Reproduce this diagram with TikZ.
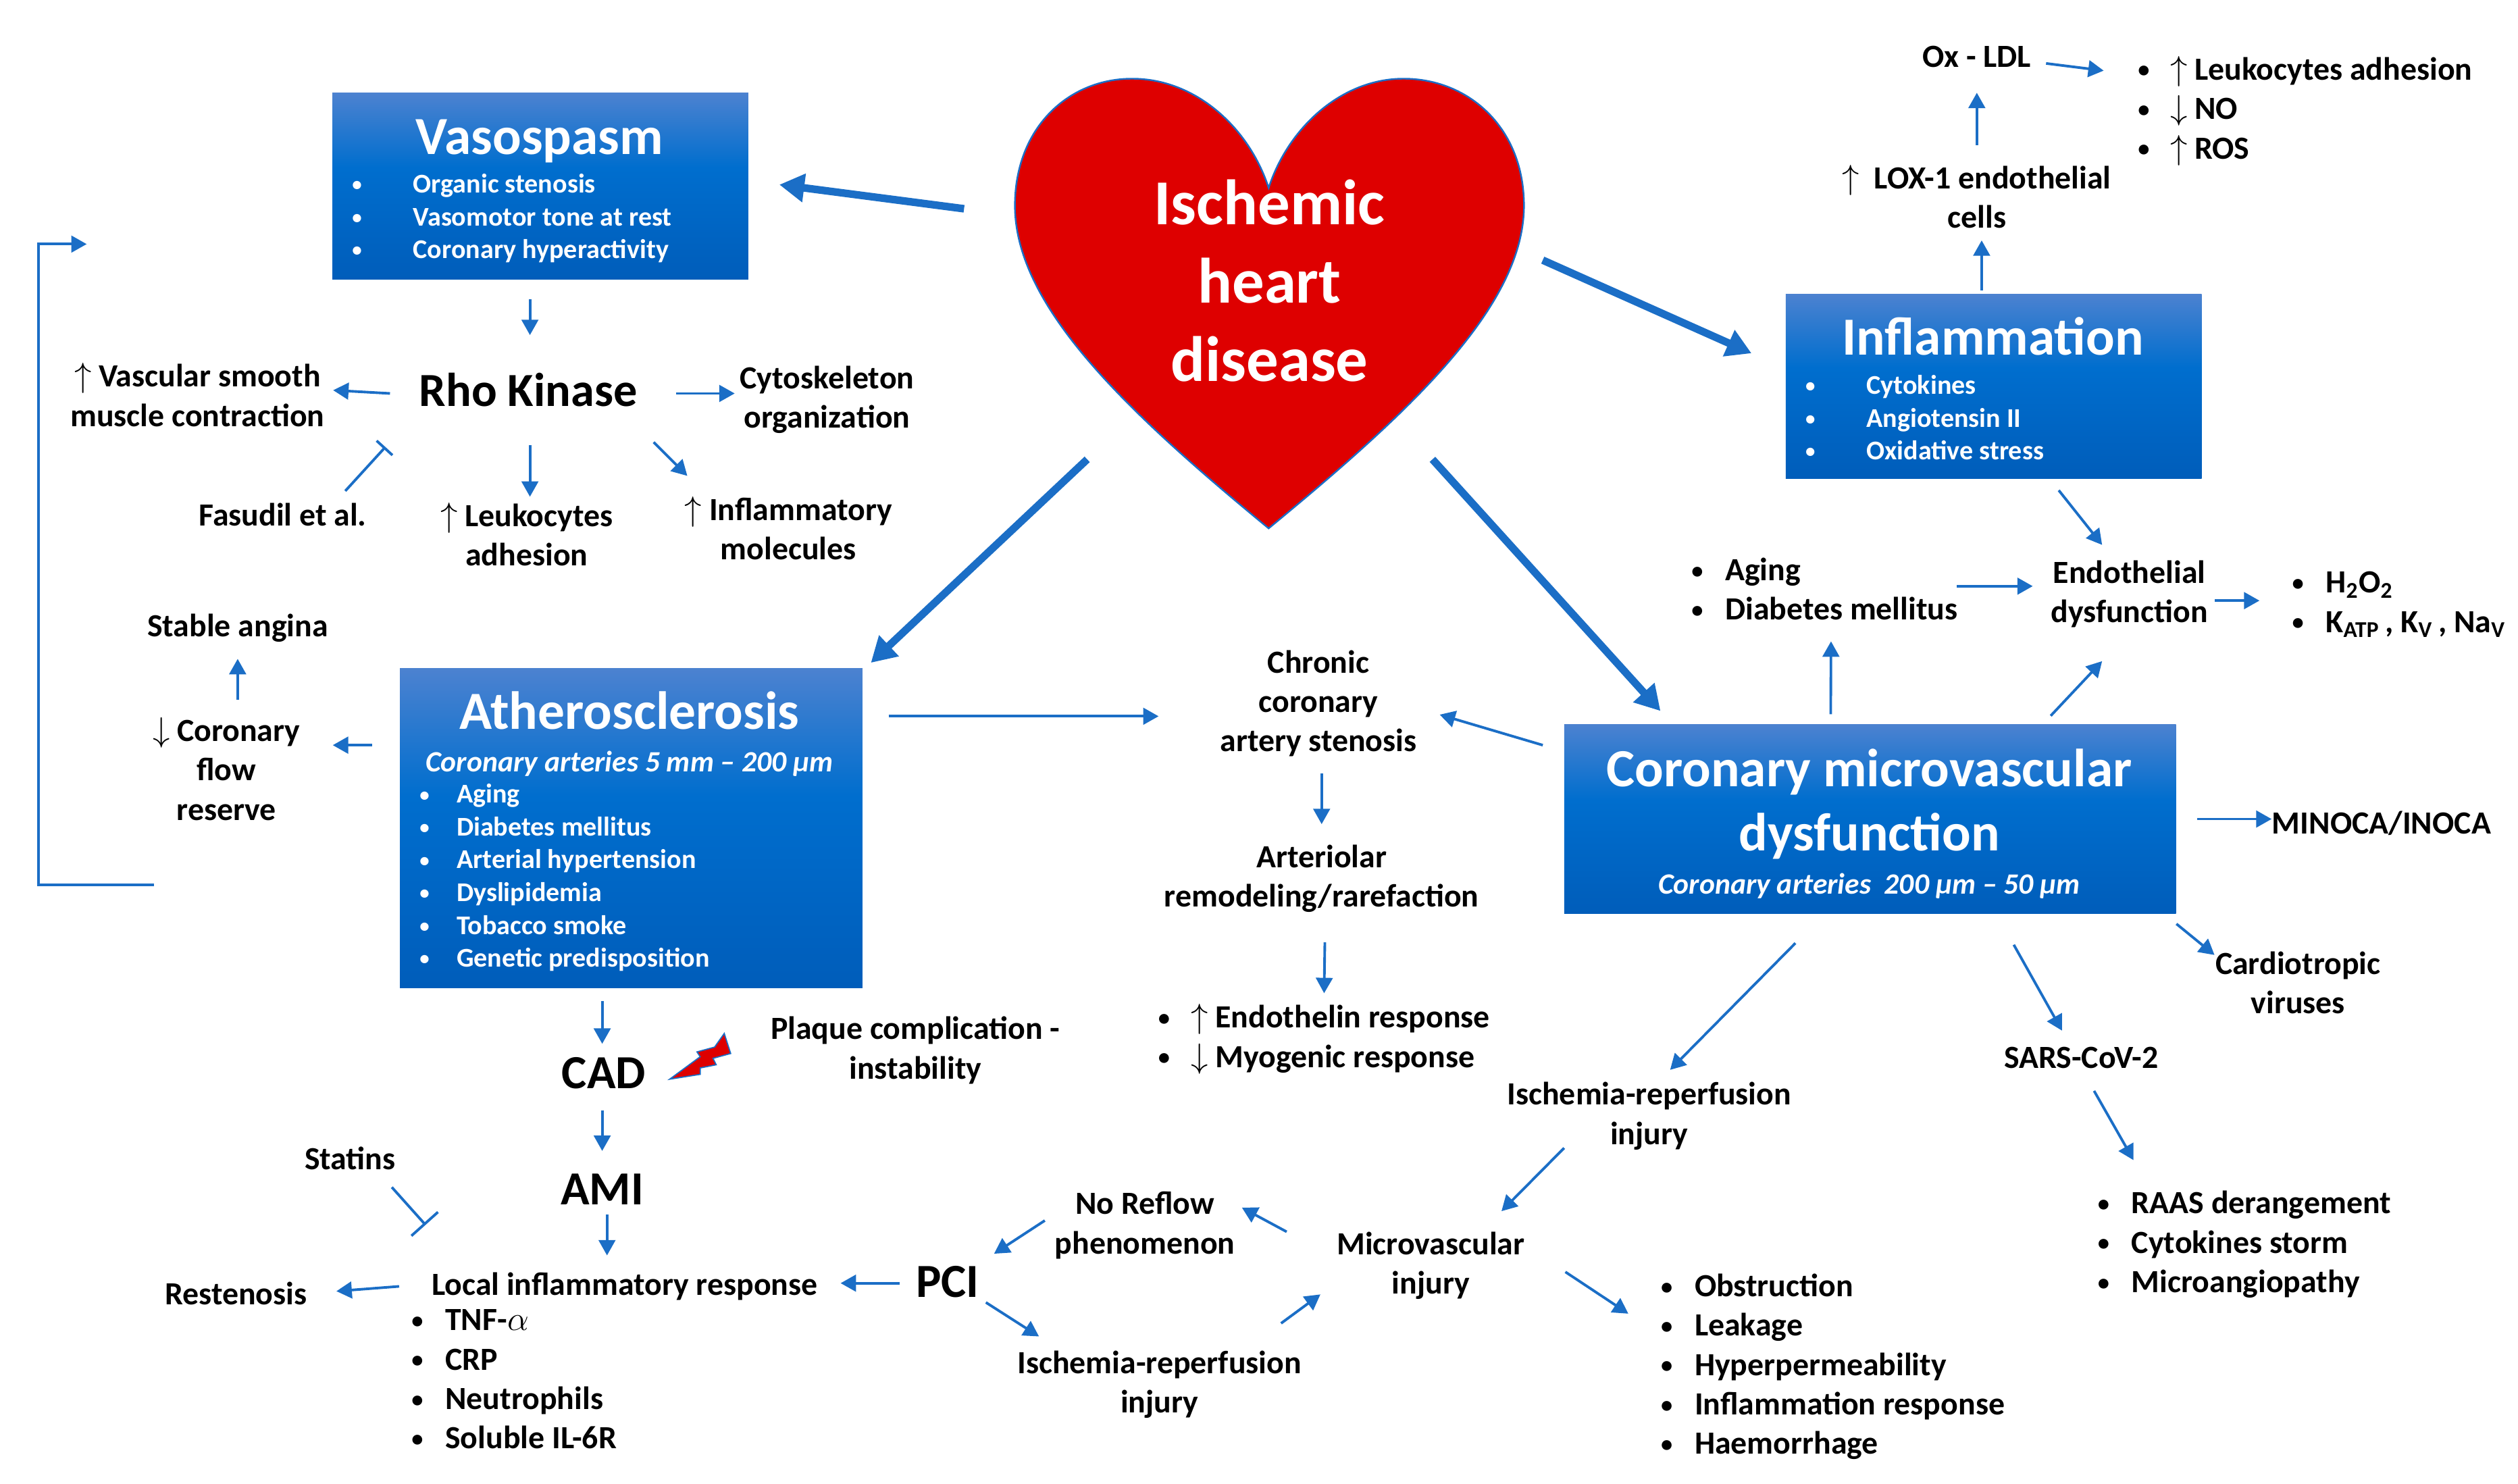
\documentclass[tikz,border=0pt]{standalone}
\usepackage{fontspec}
\setmainfont{Carlito}
\usetikzlibrary{arrows.meta}

\definecolor{flowblue}{HTML}{1B6EC6}
\definecolor{boxtop}{HTML}{4C82D0}
\definecolor{boxmid}{HTML}{006ECE}
\definecolor{boxbot}{HTML}{005DBA}
\definecolor{heartred}{HTML}{DE0000}
\pgfdeclareverticalshading{boxshade}{100bp}{color(0bp)=(boxbot); color(25bp)=(boxbot); color(55bp)=(boxmid); color(75bp)=(boxtop); color(100bp)=(boxtop)}

\newcommand{\bl}[1][14.2pt]{\makebox[#1][l]{\raisebox{.07em}{\scalebox{.72}{•}}}}
\newcommand{\strutdp}{.10}
\newcommand{\nodestrut}{\rule[-\strutdp\baselineskip]{0pt}{\baselineskip}}

\tikzset{
  flow/.style={draw=flowblue, line width=1.1pt, -{Triangle[length=6.5pt,width=7pt]}},
  mainflow/.style={draw=flowblue, line width=3.2pt, -{Triangle[length=10.5pt,width=11.5pt]}},
  inhibit/.style={draw=flowblue, line width=1.1pt, -{Bar[width=#1,line width=1.1pt]}},
  bluebox/.style={rectangle, shade, shading=boxshade, inner sep=0pt},
  txt/.style={inner sep=0pt, align=center, font=\fontsize{13.6}{16.6}\selectfont\bfseries,
    execute at begin node=\nodestrut, execute at end node=\nodestrut},
  onetxt/.style={txt, font=\fontsize{13.6}{16.6}\selectfont\bfseries\def\strutdp{.2}},
  listtxt/.style={txt, align=left},
  bigtxt/.style={txt, font=\fontsize{20}{24}\selectfont\bfseries\def\strutdp{.22}},
  boxtitle/.style={txt, text=white, font=\fontsize{22.6}{27}\selectfont\bfseries\def\strutdp{.22}},
  boxsub/.style={txt, text=white, font=\fontsize{12.4}{15}\selectfont\bfseries\itshape\def\strutdp{.16}},
  boxlist/.style={txt, text=white, align=left, anchor=west, font=\fontsize{11.4}{13.8}\selectfont\bfseries},
}

\begin{document}
\begin{tikzpicture}[x=0.6764pt, y=-0.6764pt]
\useasboundingbox (0,0) rectangle (1568,924);

\draw [fill=heartred, draw=flowblue, line width=.7pt]
  (790,329) .. controls (700,255) and (632,190) .. (632,128)
  .. controls (632,80) and (665,49) .. (705,49)
  .. controls (745,49) and (778,80) .. (790,117)
  .. controls (802,80) and (835,49) .. (874,49)
  .. controls (915,49) and (949,80) .. (949,128)
  .. controls (949,190) and (880,255) .. (790,329) -- cycle;
\node [txt, text=white, font=\fontsize{27}{33}\selectfont\bfseries] (heart) at (790.5,177) {Ischemic\\heart\\disease};

\node [bluebox, minimum width=175.2pt, minimum height=78.5pt] (vaso) at (336.5,116) {};
\node [boxtitle] (vasotitle) at (336,85) {Vasospasm};
\node [boxlist] (vasolist) at (219,136) {\bl[25.7pt]Organic stenosis\\\bl[25.7pt]Vasomotor tone at rest\\\bl[25.7pt]Coronary hyperactivity};

\node [bluebox, minimum width=175.2pt, minimum height=77.8pt] (inflam) at (1241.5,240.5) {};
\node [boxtitle] (inflamtitle) at (1241,210) {Inflammation};
\node [boxlist] (inflamlist) at (1124,261) {\bl[25.7pt]Cytokines\\\bl[25.7pt]Angiotensin II\\\bl[25.7pt]Oxidative stress};

\node [bluebox, minimum width=194.8pt, minimum height=134.6pt] (athero) at (393,515.5) {};
\node [boxtitle] (atherotitle) at (392,443) {Atherosclerosis};
\node [boxsub] (atherosub) at (392,473) {Coronary arteries 5 mm – 200 μm};
\node [boxlist] (atherolist) at (261,546.5) {\bl[15.6pt]Aging\\\bl[15.6pt]Diabetes mellitus\\\bl[15.6pt]Arterial hypertension\\\bl[15.6pt]Dyslipidemia\\\bl[15.6pt]Tobacco smoke\\\bl[15.6pt]Genetic predisposition};

\node [bluebox, minimum width=257.7pt, minimum height=79.8pt] (cmd) at (1164.5,510) {};
\node [boxtitle] (cmdtitle) at (1164,502.5) {Coronary microvascular\\dysfunction};
\node [boxsub] (cmdsub) at (1164,549) {Coronary arteries\ \ 200 μm – 50 μm};

\node [bigtxt] (rho) at (329,243) {Rho Kinase};
\node [txt] (vascular) at (123,247) {$\uparrow$ Vascular smooth\\muscle contraction};
\node [txt] (cyto) at (515,249) {Cytoskeleton\\organization};
\node [onetxt] (fasudil) at (176,320) {Fasudil et al.};
\node [txt] (leuko) at (328,334) {$\uparrow$ Leukocytes\\adhesion};
\node [txt] (inflmol) at (491,330) {$\uparrow$ Inflammatory\\molecules};
\node [onetxt] (stable) at (148,389) {Stable angina};
\node [txt] (cfr) at (141,480) {$\downarrow$ Coronary\\flow\\reserve};
\node [bigtxt] (cad) at (376,668) {CAD};
\node [txt] (plaque) at (570,654) {Plaque complication -\\instability};
\node [bigtxt] (ami) at (375,740) {AMI};
\node [onetxt] (statins) at (218,721) {Statins};
\node [onetxt] (local) at (389,799) {Local inflammatory response};
\node [onetxt] (restenosis) at (147,805) {Restenosis};
\node [listtxt, anchor=west] (locallist) at (256,860) {\bl TNF-$\alpha$\\\bl CRP\\\bl Neutrophils\\\bl Soluble IL-6R};
\node [bigtxt] (pci) at (590,798) {PCI};
\node [txt] (noreflow) at (713,763) {No Reflow\\phenomenon};
\node [txt] (ischtwo) at (722,862) {Ischemia-reperfusion\\injury};
\node [txt] (micro) at (891,788) {Microvascular\\injury};
\node [listtxt, anchor=west] (obstr) at (1034,851) {\bl Obstruction\\\bl Leakage\\\bl Hyperpermeability\\\bl Inflammation response\\\bl Haemorrhage};
\node [txt] (ischone) at (1027,695) {Ischemia-reperfusion\\injury};
\node [txt] (chronic) at (821,438) {Chronic\\coronary\\artery stenosis};
\node [txt] (arteriolar) at (823,547) {Arteriolar\\remodeling/rarefaction};
\node [listtxt, anchor=west] (endothelin) at (721,647) {\bl[13.8pt]$\uparrow$ Endothelin response\\\bl[13.8pt]$\downarrow$ Myogenic response};
\node [onetxt] (sars) at (1296,658) {SARS-CoV-2};
\node [listtxt, anchor=west] (raas) at (1306,775) {\bl RAAS derangement\\\bl Cytokines storm\\\bl Microangiopathy};
\node [txt] (cardio) at (1431,613) {Cardiotropic\\viruses};
\node [onetxt] (minoca) at (1483,512) {MINOCA/INOCA};
\node [listtxt, anchor=west] (aging) at (1053,368) {\bl Aging\\\bl Diabetes mellitus};
\node [txt] (endo) at (1326,370) {Endothelial\\dysfunction};
\node [listtxt, anchor=west] (hlist) at (1427,376.5) {\bl H\textsubscript{2}O\textsubscript{2}\\\bl K\textsubscript{ATP}\,, K\textsubscript{V}\,, Na\textsubscript{V}};
\node [txt] (lox) at (1231,123.5) {$\uparrow$\ \ LOX-1 endothelial\\cells};
\node [onetxt] (ox) at (1231,34.5) {Ox - LDL};
\node [listtxt, anchor=west] (oxlist) at (1331,69) {\bl[13.6pt]$\uparrow$ Leukocytes adhesion\\\bl[13.6pt]$\downarrow$ NO\\\bl[13.6pt]$\uparrow$ ROS};

\draw [fill=heartred, draw=flowblue, line width=.5pt]
  (417,672) -- (436,658) -- (434,655) -- (445,652) -- (451,643.5) -- (455,656)
  -- (444,659) -- (446,663) -- (436,665) -- (436,669) -- cycle;

\draw [mainflow] ([shift={(-118,-47)}]heart.west) -- ([shift={(19,-1)}]vaso.east);
\draw [mainflow] ([shift={(98,-15)}]heart.east) -- ([shift={(-21,-20.5)}]inflam.west);
\draw [mainflow] ([shift={(-113.5,43.5)}]heart.south) -- ([shift={(5,-3)}]athero.north east);
\draw [mainflow] ([shift={(101.5,43.5)}]heart.south) -- ([shift={(-130.5,-8)}]cmd.north);

\draw [flow] ([shift={(-6.5,12)}]vaso.south) -- ([shift={(1,-16.3)}]rho.north);
\draw [flow] ([shift={(-18,2)}]rho.west) -- ([shift={(5,-4)}]vascular.east);
\draw [flow] ([shift={(24,2)}]rho.east) -- ([shift={(-3,-4)}]cyto.west);
\draw [flow] ([shift={(1,16.3)}]rho.south) -- ([shift={(2,-3.5)}]leuko.north);
\draw [flow] ([shift={(78,14.3)}]rho.south) -- ([shift={(-63,-12.5)}]inflmol.north);
\draw [inhibit=9pt] ([shift={(39,-1.7)}]fasudil.north) -- ([shift={(-89,17.3)}]rho.south);
\draw [flow] ([shift={(7,-11)}]cfr.north) -- ([shift={(0,8.7)}]stable.south);
\draw [flow] ([shift={(-17,-51.5)}]athero.west) -- ([shift={(20,-16)}]cfr.east);
\coordinate (loopstart) at (96,551);
\coordinate (loopend) at (54,152);
\draw [flow] (loopstart) -- ++(-72,0) |- (loopend);
\draw [flow] ([shift={(16,-69.5)}]athero.east) -- ([shift={(-38,8)}]chronic.west);
\draw [flow] ([shift={(-13,-46)}]cmd.west) -- ([shift={(14,7)}]chronic.east);
\draw [flow] ([shift={(2,10.2)}]chronic.south) -- ([shift={(0,-12.5)}]arteriolar.north);
\draw [flow] ([shift={(2,18.5)}]arteriolar.south) -- ([shift={(0,-6.5)}]endothelin.north);
\draw [flow] ([shift={(-18,8)}]athero.south) -- ([shift={(-1,0)}]cad.north);
\draw [flow] ([shift={(-1,5.3)}]cad.south) -- ([shift={(0,-5.3)}]ami.north);
\draw [flow] ([shift={(3,-1.7)}]ami.south) -- ([shift={(-11,-4.7)}]local.north);
\draw [inhibit=15pt] ([shift={(26,5.7)}]statins.south) -- ([shift={(-124,-23.7)}]local.north);
\draw [flow] ([shift={(-20,2)}]local.west) -- ([shift={(18,-1)}]restenosis.east);
\draw [flow] ([shift={(-10,1)}]pci.west) -- ([shift={(14,0)}]local.east);
\draw [flow] ([shift={(-6,-3)}]noreflow.west) -- ([shift={(29,0.7)}]pci.north);
\draw [flow] ([shift={(-31,-21)}]micro.west) -- ([shift={(4,-11)}]noreflow.east);
\draw [flow] ([shift={(4,13)}]pci.east) -- ([shift={(-75,-8.5)}]ischtwo.north);
\draw [flow] ([shift={(-13,-38)}]ischtwo.east) -- ([shift={(-10,18)}]micro.west);
\draw [flow] ([shift={(-53,-1.5)}]ischone.south) -- ([shift={(44,-12.5)}]micro.north);
\draw [flow] ([shift={(-46.5,18)}]cmd.south) -- ([shift={(13,-7.5)}]ischone.north);
\draw [flow] ([shift={(89.5,19)}]cmd.south) -- ([shift={(-12,-3.7)}]sars.north);
\draw [flow] ([shift={(0,6)}]cmd.south east) -- ([shift={(-52,2.5)}]cardio.north);
\draw [flow] ([shift={(13,0)}]cmd.east) -- ([shift={(0,-2)}]minoca.west);
\draw [flow] ([shift={(8,8.7)}]sars.south) -- ([shift={(-69,-19)}]raas.north);
\draw [flow] ([shift={(25,4)}]micro.east) -- ([shift={(-20,-33)}]obstr.west);
\draw [flow] ([shift={(-24.5,-6)}]cmd.north) -- ([shift={(4,10.5)}]aging.south);
\draw [flow] ([shift={(112.5,-5)}]cmd.north) -- ([shift={(-17,20.5)}]endo.south);
\draw [flow] ([shift={(-1,-3)}]aging.east) -- ([shift={(-11,-5)}]endo.west);
\draw [flow] ([shift={(4,4)}]endo.east) -- ([shift={(-20,-2.5)}]hlist.west);
\draw [flow] ([shift={(40.5,7)}]inflam.south) -- ([shift={(-17,-9.5)}]endo.north);
\draw [flow] ([shift={(-7.5,-2)}]inflam.north) -- ([shift={(3,5)}]lox.south);
\draw [flow] ([shift={(0,-12)}]lox.north) -- ([shift={(0,10.7)}]ox.south);
\draw [flow] ([shift={(9,5)}]ox.east) -- ([shift={(-21,-25)}]oxlist.west);
\end{tikzpicture}
\end{document}
